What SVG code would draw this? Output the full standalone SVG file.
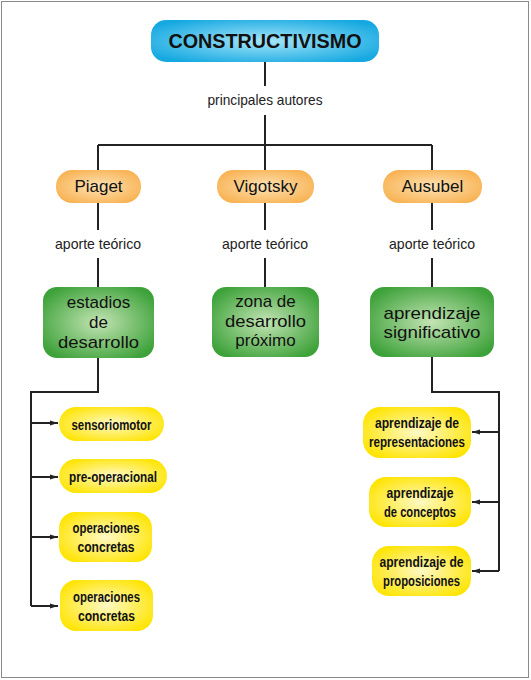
<svg xmlns="http://www.w3.org/2000/svg" width="531" height="680" viewBox="0 0 531 680">
<defs>
<radialGradient id="gCyan" cx="50%" cy="50%" r="60%"><stop offset="0" stop-color="#a6e6fa"/><stop offset="1" stop-color="#16a9e1"/></radialGradient>
<radialGradient id="gOrange" cx="50%" cy="50%" r="60%"><stop offset="0" stop-color="#fde2b4"/><stop offset="1" stop-color="#f8b150"/></radialGradient>
<radialGradient id="gGreen" cx="50%" cy="50%" r="60%"><stop offset="0" stop-color="#c3e4b4"/><stop offset="1" stop-color="#3ea23a"/></radialGradient>
<radialGradient id="gYellow" cx="50%" cy="50%" r="60%"><stop offset="0" stop-color="#fff9c4"/><stop offset="1" stop-color="#ffe400"/></radialGradient>
<marker id="arr" viewBox="0 0 10 10" refX="10" refY="5" markerWidth="8" markerHeight="8" orient="auto" markerUnits="userSpaceOnUse">
<path d="M0,2 L10,5 L0,8 Z" fill="#222"/>
</marker>
<style>
.ln{fill:none;stroke:#222;stroke-width:2}
.lab{font-family:"Liberation Sans",Arial,sans-serif;font-size:15px;fill:#222;text-anchor:middle}
.ttl{font-family:"Liberation Sans",Arial,sans-serif;font-size:20px;font-weight:bold;fill:#111;text-anchor:middle}
.au{font-family:"Liberation Sans",Arial,sans-serif;font-size:17px;fill:#111;text-anchor:middle}
.gr{font-family:"Liberation Sans",Arial,sans-serif;font-size:17px;fill:#111;text-anchor:middle}
.ye{font-family:"Liberation Sans",Arial,sans-serif;font-size:15px;font-weight:bold;fill:#111;text-anchor:middle}
</style>
</defs>
<rect x="1.5" y="1.5" width="527" height="676" fill="#fff" stroke="#8a8a8a" stroke-width="1"/>

<g id="connectors">
<path class="ln" d="M265,62 V86 M265,115 V145 M98,145 H432 M98,145 V170 M265,145 V170 M432,145 V170"/>
<path class="ln" d="M98,203 V230 M98,258 V287 M265,203 V230 M265,258 V287 M432,203 V230 M432,258 V287"/>
<path class="ln" d="M98,358 V392 H31 V606"/>
<path class="ln" d="M31,423 H58" marker-end="url(#arr)"/>
<path class="ln" d="M31,477 H58" marker-end="url(#arr)"/>
<path class="ln" d="M31,537 H58" marker-end="url(#arr)"/>
<path class="ln" d="M31,606 H58" marker-end="url(#arr)"/>
<path class="ln" d="M432,357 V392 H499 V571"/>
<path class="ln" d="M499,432 H472" marker-end="url(#arr)"/>
<path class="ln" d="M499,502 H472" marker-end="url(#arr)"/>
<path class="ln" d="M499,571 H472" marker-end="url(#arr)"/>
<text class="lab" x="265" y="105" textLength="115" lengthAdjust="spacingAndGlyphs">principales autores</text>
<text class="lab" x="98" y="249" textLength="86" lengthAdjust="spacingAndGlyphs">aporte teórico</text>
<text class="lab" x="265" y="249" textLength="86" lengthAdjust="spacingAndGlyphs">aporte teórico</text>
<text class="lab" x="432" y="249" textLength="86" lengthAdjust="spacingAndGlyphs">aporte teórico</text>
</g>

<g id="constructivismo">
<rect x="151" y="20" width="228" height="42" rx="15" fill="url(#gCyan)"/>
<text class="ttl" x="265" y="48" textLength="193" lengthAdjust="spacingAndGlyphs">CONSTRUCTIVISMO</text>
</g>

<g id="piaget">
<rect x="56" y="170" width="85" height="33" rx="16" fill="url(#gOrange)"/>
<text class="au" x="98.5" y="192">Piaget</text>
</g>
<g id="vigotsky">
<rect x="217" y="170" width="97" height="33" rx="16" fill="url(#gOrange)"/>
<text class="au" x="265.5" y="192">Vigotsky</text>
</g>
<g id="ausubel">
<rect x="383" y="170" width="99" height="33" rx="16" fill="url(#gOrange)"/>
<text class="au" x="432.5" y="192">Ausubel</text>
</g>

<g id="estadios">
<rect x="43" y="287" width="111" height="71" rx="14" fill="url(#gGreen)"/>
<text class="gr" x="98.5" y="308">estadios</text>
<text class="gr" x="98.5" y="328">de</text>
<text class="gr" x="98.5" y="348" textLength="81" lengthAdjust="spacingAndGlyphs">desarrollo</text>
</g>
<g id="zona">
<rect x="212" y="287" width="107" height="70" rx="14" fill="url(#gGreen)"/>
<text class="gr" x="265.5" y="307">zona de</text>
<text class="gr" x="265.5" y="327" textLength="81" lengthAdjust="spacingAndGlyphs">desarrollo</text>
<text class="gr" x="265.5" y="346">próximo</text>
</g>
<g id="significativo">
<rect x="370" y="287" width="124" height="70" rx="14" fill="url(#gGreen)"/>
<text class="gr" x="432" y="319" textLength="97" lengthAdjust="spacingAndGlyphs">aprendizaje</text>
<text class="gr" x="432" y="338" textLength="97" lengthAdjust="spacingAndGlyphs">significativo</text>
</g>

<g id="sensoriomotor">
<rect x="59" y="407" width="105" height="34" rx="17" fill="url(#gYellow)"/>
<text class="ye" x="111.5" y="430" textLength="80" lengthAdjust="spacingAndGlyphs">sensoriomotor</text>
</g>
<g id="preoperacional">
<rect x="59" y="459" width="108" height="34" rx="17" fill="url(#gYellow)"/>
<text class="ye" x="113" y="482" textLength="88" lengthAdjust="spacingAndGlyphs">pre-operacional</text>
</g>
<g id="operaciones1">
<rect x="59" y="512" width="93" height="50" rx="16" fill="url(#gYellow)"/>
<text class="ye" x="106" y="533" textLength="67" lengthAdjust="spacingAndGlyphs">operaciones</text>
<text class="ye" x="106" y="552" textLength="57" lengthAdjust="spacingAndGlyphs">concretas</text>
</g>
<g id="operaciones2">
<rect x="60" y="580" width="93" height="51" rx="16" fill="url(#gYellow)"/>
<text class="ye" x="106.5" y="602" textLength="67" lengthAdjust="spacingAndGlyphs">operaciones</text>
<text class="ye" x="106.5" y="621" textLength="57" lengthAdjust="spacingAndGlyphs">concretas</text>
</g>

<g id="representaciones">
<rect x="363" y="407" width="108" height="51" rx="17" fill="url(#gYellow)"/>
<text class="ye" x="417" y="428" textLength="84" lengthAdjust="spacingAndGlyphs">aprendizaje de</text>
<text class="ye" x="417" y="447" textLength="96" lengthAdjust="spacingAndGlyphs">representaciones</text>
</g>
<g id="conceptos">
<rect x="369" y="477" width="102" height="50" rx="17" fill="url(#gYellow)"/>
<text class="ye" x="420" y="498" textLength="67" lengthAdjust="spacingAndGlyphs">aprendizaje</text>
<text class="ye" x="420" y="517" textLength="72" lengthAdjust="spacingAndGlyphs">de conceptos</text>
</g>
<g id="proposiciones">
<rect x="372" y="546" width="99" height="50" rx="17" fill="url(#gYellow)"/>
<text class="ye" x="421.5" y="567" textLength="84" lengthAdjust="spacingAndGlyphs">aprendizaje de</text>
<text class="ye" x="421.5" y="586" textLength="77" lengthAdjust="spacingAndGlyphs">proposiciones</text>
</g>
</svg>
